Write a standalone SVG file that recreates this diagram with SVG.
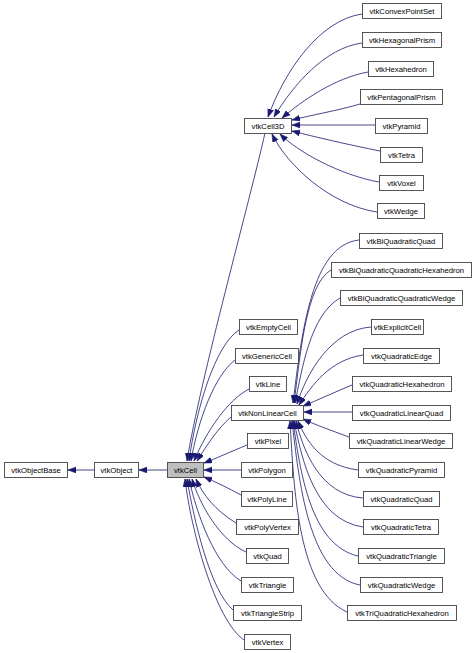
<svg xmlns="http://www.w3.org/2000/svg" width="474" height="653" viewBox="0 0 474 653">
<style>
.n rect{fill:#fff;stroke:#444;stroke-width:0.9}
.n text{font-family:"Liberation Sans",Arial,sans-serif;font-size:7.7px;fill:#000;text-anchor:middle}
.e path{fill:none;stroke:#191970;stroke-width:0.8;marker-end:url(#a)}
</style>
<defs>
<marker id="a" markerUnits="userSpaceOnUse" markerWidth="9" markerHeight="7" refX="8" refY="3" orient="auto">
<path d="M0,0 L8,3 L0,6 z" fill="#191970" stroke="#191970" stroke-width="0.5"/>
</marker>
</defs>
<g id="edges" class="e">
<path d="M94,470 L68,470"/>
<path d="M167,470 L139,470"/>
<path d="M265,133 C 250,200 200,380 187,461"/>
<path d="M239,330 C 215,345 196,410 189,461"/>
<path d="M235,360 C 215,375 198,420 191,461"/>
<path d="M249,389 C 228,400 207,430 194,461"/>
<path d="M231,417 C 218,428 207,445 197,461"/>
<path d="M247,445 C 230,452 217,458 204,463"/>
<path d="M241,470 L204,470"/>
<path d="M241,495 C 228,488 216,482 204,477"/>
<path d="M236,523 C 215,510 203,495 196,479"/>
<path d="M246,552 C 220,540 200,505 192,479"/>
<path d="M241,581 C 215,565 197,515 189,479"/>
<path d="M233,610 C 210,590 194,520 187,479"/>
<path d="M244,640 C 215,620 191,530 185,479"/>
<path d="M362,14 C 320,20 285,70 268,117"/>
<path d="M362,43 C 325,48 293,85 274,117"/>
<path d="M368,72 C 335,78 303,100 282,118"/>
<path d="M360,104 C 340,110 312,115 292,120"/>
<path d="M375,125 L292,125"/>
<path d="M380,151 C 350,145 315,137 292,131"/>
<path d="M379,182 C 340,175 298,152 280,134"/>
<path d="M377,212 C 330,205 287,165 272,134"/>
<path d="M359,240 C 312,245 302,330 293,403"/>
<path d="M331,270 C 305,285 300,360 294,403"/>
<path d="M340,298 C 310,315 302,370 295,403"/>
<path d="M371,327 C 330,330 306,375 297,404"/>
<path d="M363,355 C 330,360 312,385 299,405"/>
<path d="M352,385 C 335,392 318,400 303,406"/>
<path d="M352,412 L304,412"/>
<path d="M349,437 C 330,430 316,425 303,419"/>
<path d="M358,470 C 320,465 306,440 298,421"/>
<path d="M363,498 C 320,495 303,450 296,421"/>
<path d="M363,527 C 315,520 302,460 294,421"/>
<path d="M358,556 C 310,545 300,470 293,421"/>
<path d="M360,585 C 308,575 299,480 292,421"/>
<path d="M347,612 C 298,590 294,490 290,421"/>
</g>
<g id="vtkObjectBase" class="n"><rect x="4.5" y="462.5" width="63" height="15"/><text x="36" y="473">vtkObjectBase</text></g>
<g id="vtkObject" class="n"><rect x="94.5" y="462.5" width="44" height="15"/><text x="116.5" y="473">vtkObject</text></g>
<g id="vtkCell" class="n"><rect x="167.5" y="462.5" width="36" height="15" style="fill:#bfbfbf"/><text x="185.5" y="473">vtkCell</text></g>
<g id="vtkCell3D" class="n"><rect x="244.5" y="118.5" width="47" height="15"/><text x="268" y="129">vtkCell3D</text></g>
<g id="vtkConvexPointSet" class="n"><rect x="362.5" y="3.5" width="79" height="15"/><text x="402" y="14">vtkConvexPointSet</text></g>
<g id="vtkHexagonalPrism" class="n"><rect x="362.5" y="32.5" width="79" height="15"/><text x="402" y="43">vtkHexagonalPrism</text></g>
<g id="vtkHexahedron" class="n"><rect x="368.5" y="61.5" width="65" height="15"/><text x="401" y="72">vtkHexahedron</text></g>
<g id="vtkPentagonalPrism" class="n"><rect x="360.5" y="89.5" width="82" height="15"/><text x="401.5" y="100">vtkPentagonalPrism</text></g>
<g id="vtkPyramid" class="n"><rect x="375.5" y="118.5" width="52" height="15"/><text x="401.5" y="129">vtkPyramid</text></g>
<g id="vtkTetra" class="n"><rect x="380.5" y="147.5" width="42" height="15"/><text x="401.5" y="158">vtkTetra</text></g>
<g id="vtkVoxel" class="n"><rect x="379.5" y="175.5" width="44" height="15"/><text x="401.5" y="186">vtkVoxel</text></g>
<g id="vtkWedge" class="n"><rect x="377.5" y="203.5" width="47" height="15"/><text x="401" y="214">vtkWedge</text></g>
<g id="vtkBiQuadraticQuad" class="n"><rect x="359.5" y="233.5" width="83" height="15"/><text x="401" y="244">vtkBiQuadraticQuad</text></g>
<g id="vtkBiQuadraticQuadraticHexahedron" class="n"><rect x="331.5" y="262.5" width="140" height="15"/><text x="401.5" y="273">vtkBiQuadraticQuadraticHexahedron</text></g>
<g id="vtkBiQuadraticQuadraticWedge" class="n"><rect x="340.5" y="290.5" width="122" height="15"/><text x="401.5" y="301">vtkBiQuadraticQuadraticWedge</text></g>
<g id="vtkExplicitCell" class="n"><rect x="371.5" y="319.5" width="52" height="15"/><text x="397.5" y="330">vtkExplicitCell</text></g>
<g id="vtkQuadraticEdge" class="n"><rect x="363.5" y="348.5" width="76" height="15"/><text x="401.5" y="359">vtkQuadraticEdge</text></g>
<g id="vtkQuadraticHexahedron" class="n"><rect x="352.5" y="376.5" width="99" height="15"/><text x="402" y="387">vtkQuadraticHexahedron</text></g>
<g id="vtkQuadraticLinearQuad" class="n"><rect x="352.5" y="405.5" width="98" height="15"/><text x="401.5" y="416">vtkQuadraticLinearQuad</text></g>
<g id="vtkQuadraticLinearWedge" class="n"><rect x="349.5" y="433.5" width="103" height="15"/><text x="401" y="444">vtkQuadraticLinearWedge</text></g>
<g id="vtkQuadraticPyramid" class="n"><rect x="358.5" y="462.5" width="86" height="15"/><text x="401.5" y="473">vtkQuadraticPyramid</text></g>
<g id="vtkQuadraticQuad" class="n"><rect x="363.5" y="491.5" width="76" height="15"/><text x="401.5" y="502">vtkQuadraticQuad</text></g>
<g id="vtkQuadraticTetra" class="n"><rect x="363.5" y="519.5" width="75" height="15"/><text x="401" y="530">vtkQuadraticTetra</text></g>
<g id="vtkQuadraticTriangle" class="n"><rect x="358.5" y="548.5" width="86" height="15"/><text x="401.5" y="559">vtkQuadraticTriangle</text></g>
<g id="vtkQuadraticWedge" class="n"><rect x="360.5" y="577.5" width="82" height="15"/><text x="401.5" y="588">vtkQuadraticWedge</text></g>
<g id="vtkTriQuadraticHexahedron" class="n"><rect x="347.5" y="605.5" width="109" height="15"/><text x="402" y="616">vtkTriQuadraticHexahedron</text></g>
<g id="vtkEmptyCell" class="n"><rect x="239.5" y="319.5" width="58" height="15"/><text x="268.5" y="330">vtkEmptyCell</text></g>
<g id="vtkGenericCell" class="n"><rect x="235.5" y="348.5" width="63" height="15"/><text x="267" y="359">vtkGenericCell</text></g>
<g id="vtkLine" class="n"><rect x="249.5" y="376.5" width="37" height="15"/><text x="268" y="387">vtkLine</text></g>
<g id="vtkNonLinearCell" class="n"><rect x="231.5" y="405.5" width="72" height="15"/><text x="267.5" y="416">vtkNonLinearCell</text></g>
<g id="vtkPixel" class="n"><rect x="247.5" y="433.5" width="41" height="15"/><text x="268" y="444">vtkPixel</text></g>
<g id="vtkPolygon" class="n"><rect x="241.5" y="462.5" width="51" height="15"/><text x="267" y="473">vtkPolygon</text></g>
<g id="vtkPolyLine" class="n"><rect x="241.5" y="491.5" width="51" height="15"/><text x="267" y="502">vtkPolyLine</text></g>
<g id="vtkPolyVertex" class="n"><rect x="236.5" y="519.5" width="62" height="15"/><text x="267.5" y="530">vtkPolyVertex</text></g>
<g id="vtkQuad" class="n"><rect x="246.5" y="548.5" width="42" height="15"/><text x="267.5" y="559">vtkQuad</text></g>
<g id="vtkTriangle" class="n"><rect x="241.5" y="577.5" width="52" height="15"/><text x="267.5" y="588">vtkTriangle</text></g>
<g id="vtkTriangleStrip" class="n"><rect x="233.5" y="605.5" width="68" height="15"/><text x="267.5" y="616">vtkTriangleStrip</text></g>
<g id="vtkVertex" class="n"><rect x="244.5" y="634.5" width="46" height="15"/><text x="267.5" y="645">vtkVertex</text></g>
</svg>
